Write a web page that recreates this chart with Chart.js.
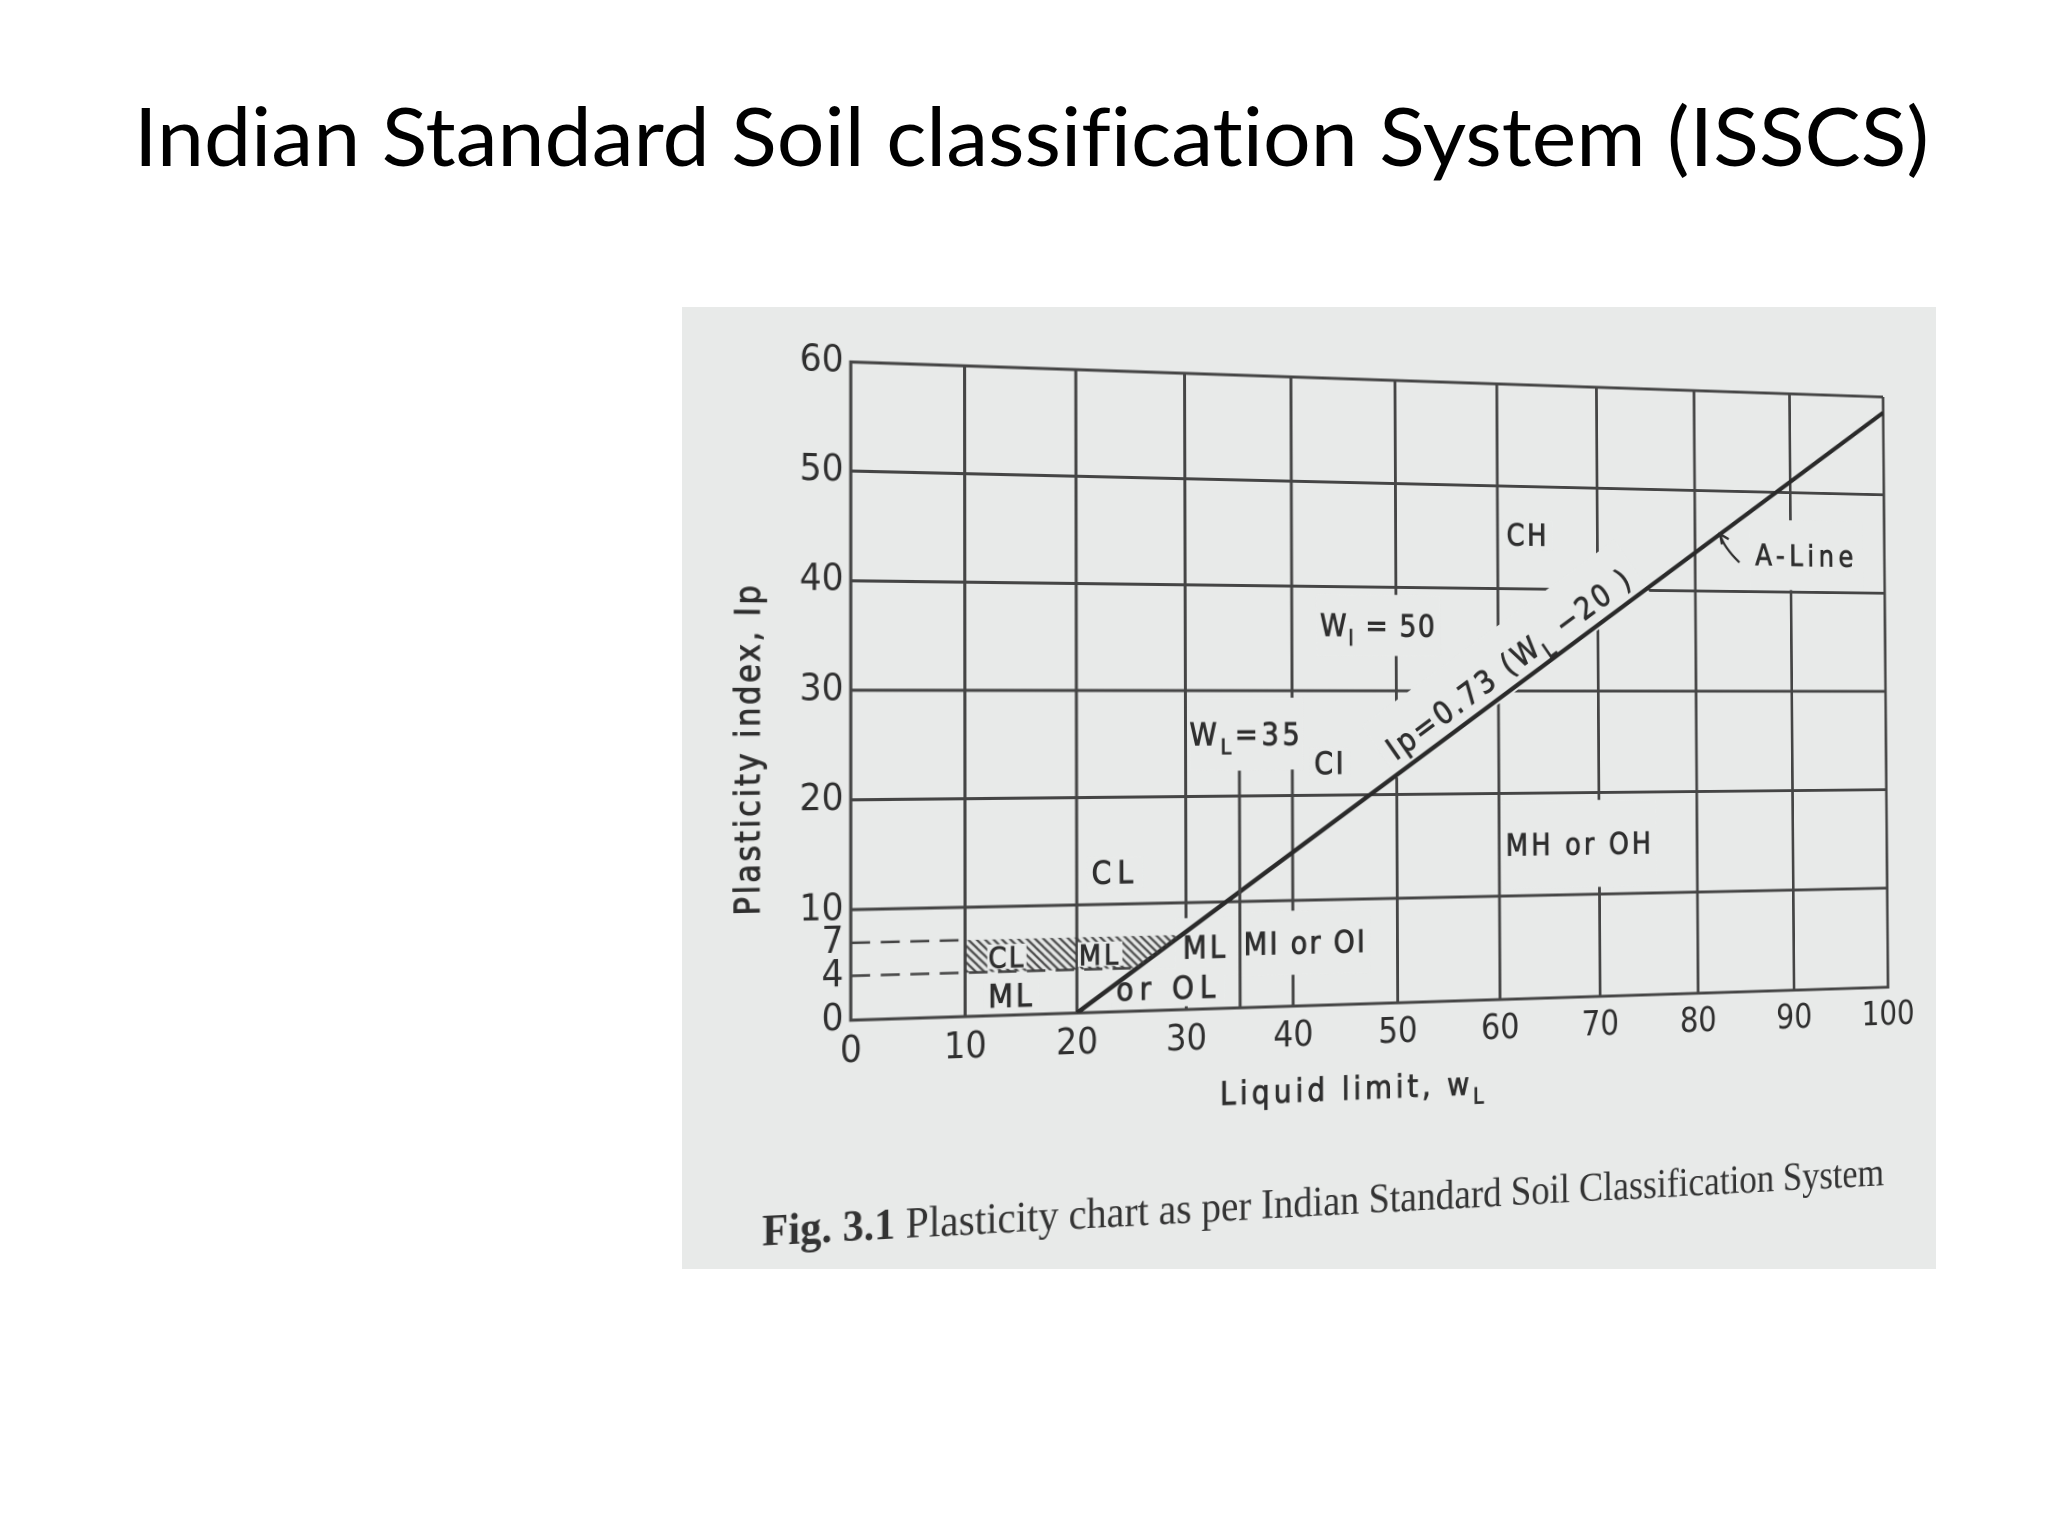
<!DOCTYPE html>
<html lang="en">
<head>
<meta charset="utf-8">
<title>Indian Standard Soil classification System (ISSCS)</title>
<script src="https://cdn.jsdelivr.net/npm/chart.js@4.4.1/dist/chart.umd.min.js"></script>
<style>
  html, body { margin: 0; padding: 0; background: #ffffff; }
  body { width: 2048px; height: 1536px; position: relative; overflow: hidden; }
  #slideTitle {
    position: absolute; left: 134px; top: 93px;
    font-family: Lato, 'Open Sans', sans-serif; font-size: 82px; line-height: 1;
    font-variant-ligatures: none; font-feature-settings: "liga" 0;
    color: #000; white-space: nowrap; transform-origin: 0 0;
  }
  #scan {
    position: absolute; left: 682px; top: 307px; width: 1254px; height: 962px;
    overflow: hidden; background: #e8eae9;
  }
  #scan canvas { position: absolute; left: 0; top: 0; transform-origin: 0 0; filter: blur(0.4px); }
</style>
</head>
<body>
<div id="slideTitle">Indian Standard Soil classification System (ISSCS)</div>
<div id="scan"><canvas id="plasticityChart" width="1310" height="960"></canvas></div>
<script>
// ---- values ----
const liquidLimitTicks = [0, 10, 20, 30, 40, 50, 60, 70, 80, 90, 100];
const plasticityTicks = [0, 4, 7, 10, 20, 30, 40, 50, 60];

// A-line, Ip = 0.73 (wL - 20)
const aLineWL = [20, 100];
const aLineIp = [0, 58.4];
// wL = 35 divider, drawn up to its label
const wl35WL = [35, 35];
const wl35Ip = [0, 22.4];
// dashed limits at Ip = 7 and Ip = 4
const ip7WL = [0, 10];
const ip7Ip = [7, 7];
const ip4WL = [0, 25.5];
const ip4Ip = [4, 4];
// hatched CL-ML band
const bandWL = [10, 29.6, 25.5, 10];
const bandIp = [7, 7, 4, 4];

// ---- look ----
const PAPER = '#e8eae9';
const LINE = '#454545';
const INK = '#2f2f2f';
const FIG_FONT = "'DejaVu Sans Condensed', 'DejaVu Sans', sans-serif";
const LABEL_SIZE = 31;

// zone names: position in (wL, Ip), printed width, and the gap they cut in the grid
const zoneLabels = [
  { parts: [['CH']], wl: 63, ip: 45.3, w: 46, pad: [4, 4] },
  { parts: [['A-Line']], wl: 91.7, ip: 43.7, w: 118, pad: [6, 26] },
  { parts: [['W'], ['l', true], [' = 50']], wl: 48.3, ip: 36.3, w: 122, pad: [4, 20] },
  { parts: [['W'], ['L', true], ['=35']], wl: 35.7, ip: 25.9, w: 116, pad: [0, 25] },
  { parts: [['CI']], wl: 43.6, ip: 23.1, w: 33, pad: [4, 4] },
  { parts: [['CL']], wl: 23.5, ip: 13.0, w: 47, pad: [4, 4] },
  { parts: [['MH or OH']], wl: 68.1, ip: 15.0, w: 162, pad: [3, 34] },
  { parts: [['ML']], wl: 31.8, ip: 5.8, w: 46, pad: [8, 18] },
  { parts: [['MI or OI']], wl: 41.2, ip: 6.0, w: 127, pad: [3, 21] },
  { parts: [['or OL']], wl: 28.4, ip: 2.1, w: 105, pad: [4, 8] },
  { parts: [['ML']], wl: 14.1, ip: 1.8, w: 45, pad: [4, 4] }
];
const bandLabels = [
  { text: 'CL', wl: 13.7, ip: 5.4, w: 36 },
  { text: 'ML', wl: 22.1, ip: 5.4, w: 42 }
];
const formula = { parts: [['Ip=0.73 (W'], ['L', true], [' \u221220 )']], wl: 62.5, ip: 31.0, w: 318 };
const arrowWL = [84.6, 82.6];
const arrowIp = [42.9, 45.7];

const toPoints = (xs, ys) => xs.map((v, i) => ({ x: v, y: ys[i] }));

function partsWidth(ctx, parts, size) {
  let w = 0;
  ctx.letterSpacing = '0px';
  for (const [t, sub] of parts) {
    ctx.font = `${sub ? size * 0.7 : size}px ${FIG_FONT}`;
    w += ctx.measureText(t).width;
  }
  return w;
}

// draw text pieces (with subscripts) centred on cx, spaced out to the printed width
function drawParts(ctx, parts, cx, baseY, size, targetW) {
  const natural = partsWidth(ctx, parts, size);
  const n = parts.reduce((s, p) => s + p[0].length, 0);
  const sp = targetW ? (targetW - natural) / n : 0;
  let x = cx - (natural + sp * n) / 2;
  ctx.textAlign = 'left';
  ctx.textBaseline = 'alphabetic';
  ctx.strokeStyle = ctx.fillStyle;
  ctx.lineWidth = 0.8;
  for (const [t, sub] of parts) {
    const fs = sub ? size * 0.7 : size;
    ctx.font = `${fs}px ${FIG_FONT}`;
    ctx.letterSpacing = '0px';
    const tw = ctx.measureText(t).width;
    ctx.letterSpacing = sp + 'px';
    const yy = baseY + (sub ? size * 0.3 : 0);
    ctx.fillText(t, x, yy);
    ctx.strokeText(t, x, yy);
    x += tw + sp * t.length;
  }
  ctx.letterSpacing = '0px';
}

const figureText = {
  id: 'figureText',
  beforeDatasetsDraw(chart) {
    const { ctx, scales: { x, y } } = chart;
    ctx.save();
    ctx.fillStyle = PAPER;
    for (const l of zoneLabels) {
      const cx = x.getPixelForValue(l.wl), cy = y.getPixelForValue(l.ip);
      const hw = l.w / 2 + l.pad[0], hh = LABEL_SIZE * 0.36 + l.pad[1];
      ctx.fillRect(cx - hw, cy - hh, hw * 2, hh * 2);
    }
    // gap left in the grid around the A-line equation
    const p0 = [x.getPixelForValue(aLineWL[0]), y.getPixelForValue(aLineIp[0])];
    const p1 = [x.getPixelForValue(aLineWL[1]), y.getPixelForValue(aLineIp[1])];
    const ang = Math.atan2(p1[1] - p0[1], p1[0] - p0[0]);
    ctx.translate(x.getPixelForValue(formula.wl), y.getPixelForValue(formula.ip));
    ctx.rotate(ang);
    ctx.fillRect(-formula.w / 2 - 8, -62, formula.w + 16, 66);
    ctx.restore();
  },
  afterDatasetsDraw(chart) {
    const { ctx, chartArea: a, scales: { x, y } } = chart;
    ctx.save();
    ctx.fillStyle = INK;
    for (const l of zoneLabels) {
      const cx = x.getPixelForValue(l.wl), cy = y.getPixelForValue(l.ip);
      drawParts(ctx, l.parts, cx, cy + LABEL_SIZE * 0.36, LABEL_SIZE, l.w);
    }
    // labels inside the hatched band
    for (const l of bandLabels) {
      const cx = x.getPixelForValue(l.wl), cy = y.getPixelForValue(l.ip);
      ctx.fillStyle = PAPER;
      ctx.fillRect(cx - l.w / 2 - 1, cy - 12, l.w + 2, 24);
      ctx.fillStyle = INK;
      drawParts(ctx, [[l.text]], cx, cy + 10, 28, l.w);
    }
    // equation along the A-line
    const p0 = [x.getPixelForValue(aLineWL[0]), y.getPixelForValue(aLineIp[0])];
    const p1 = [x.getPixelForValue(aLineWL[1]), y.getPixelForValue(aLineIp[1])];
    const ang = Math.atan2(p1[1] - p0[1], p1[0] - p0[0]);
    ctx.save();
    ctx.translate(x.getPixelForValue(formula.wl), y.getPixelForValue(formula.ip));
    ctx.rotate(ang);
    drawParts(ctx, formula.parts, 0, -12, 32, formula.w);
    ctx.restore();
    // arrow pointing at the A-line
    const t0 = [x.getPixelForValue(arrowWL[0]), y.getPixelForValue(arrowIp[0])];
    const t1 = [x.getPixelForValue(arrowWL[1]), y.getPixelForValue(arrowIp[1])];
    ctx.strokeStyle = INK;
    ctx.lineWidth = 2.5;
    ctx.beginPath();
    ctx.moveTo(t0[0], t0[1]);
    ctx.quadraticCurveTo(t1[0] + 4, t1[1] + 14, t1[0], t1[1]);
    ctx.stroke();
    const ha = Math.atan2(t1[1] - t0[1], t1[0] - t0[0]);
    ctx.beginPath();
    ctx.moveTo(t1[0] - 11 * Math.cos(ha - 0.45), t1[1] - 11 * Math.sin(ha - 0.45));
    ctx.lineTo(t1[0], t1[1]);
    ctx.lineTo(t1[0] - 11 * Math.cos(ha + 0.45), t1[1] - 11 * Math.sin(ha + 0.45));
    ctx.stroke();
    // axis titles
    drawParts(ctx, [['Liquid limit, w'], ['L', true]], x.getPixelForValue(45.9), a.bottom + 96, 32, 278);
    ctx.save();
    ctx.translate(a.left - 97, y.getPixelForValue(24.7));
    ctx.rotate(-Math.PI / 2);
    drawParts(ctx, [['Plasticity index, Ip']], 0, 12, 32, 317);
    ctx.restore();
    // figure caption printed under the chart
    const cx0 = x.getPixelForValue(-7.6), cx1 = x.getPixelForValue(99.4);
    const bold = 'bold 42px "Liberation Serif", "DejaVu Serif", serif';
    const reg = '42px "Liberation Serif", "DejaVu Serif", serif';
    const head = 'Fig. 3.1', rest = ' Plasticity chart as per Indian Standard Soil Classification System';
    ctx.font = bold; const wh = ctx.measureText(head).width;
    ctx.font = reg; const wr = ctx.measureText(rest).width;
    ctx.save();
    ctx.translate(cx0, a.bottom + 211);
    ctx.scale((cx1 - cx0) / (wh + wr), 1);
    ctx.fillStyle = '#333333';
    ctx.textAlign = 'left';
    ctx.font = bold; ctx.fillText(head, 0, 0);
    ctx.font = reg; ctx.fillText(rest, wh, 0);
    ctx.restore();
    ctx.restore();
  }
};

document.addEventListener('DOMContentLoaded', function () {
  // slide title stretched to the width it has on the slide
  const title = document.getElementById('slideTitle');
  title.style.transform = `scaleX(${1795 / title.getBoundingClientRect().width})`;

  const canvas = document.getElementById('plasticityChart');
  const ctx = canvas.getContext('2d');

  // diagonal hatching for the CL-ML band
  const tile = document.createElement('canvas');
  tile.width = 8; tile.height = 8;
  const tg = tile.getContext('2d');
  tg.strokeStyle = '#3c3c3c';
  tg.lineWidth = 2;
  tg.beginPath(); tg.moveTo(-1, -1); tg.lineTo(9, 9); tg.stroke();
  tg.beginPath(); tg.moveTo(-1, 7); tg.lineTo(1, 9); tg.stroke();
  tg.beginPath(); tg.moveTo(7, -1); tg.lineTo(9, 1); tg.stroke();
  const hatch = ctx.createPattern(tile, 'repeat');

  const tickFont = { family: FIG_FONT, size: 36 };

  const chart = new Chart(ctx, {
    type: 'scatter',
    data: {
      datasets: [{
        label: 'CL-ML band',
        data: toPoints(bandWL, bandIp),
        showLine: true,
        fill: 'shape',
        backgroundColor: hatch,
        borderWidth: 0,
        pointRadius: 0
      }, {
        label: 'Ip = 7',
        data: toPoints(ip7WL, ip7Ip),
        showLine: true,
        borderColor: LINE,
        borderWidth: 2.5,
        borderDash: [18, 10],
        pointRadius: 0
      }, {
        label: 'Ip = 4',
        data: toPoints(ip4WL, ip4Ip),
        showLine: true,
        borderColor: LINE,
        borderWidth: 2.5,
        borderDash: [18, 10],
        pointRadius: 0
      }, {
        label: 'wL = 35',
        data: toPoints(wl35WL, wl35Ip),
        showLine: true,
        borderColor: LINE,
        borderWidth: 3,
        pointRadius: 0
      }, {
        label: 'A-line',
        data: toPoints(aLineWL, aLineIp),
        showLine: true,
        borderColor: '#2a2a2a',
        borderWidth: 4.5,
        pointRadius: 0
      }]
    },
    options: {
      responsive: false,
      animation: false,
      devicePixelRatio: 2,
      layout: { padding: { left: 120, right: 50, top: 55, bottom: 210 } },
      plugins: { legend: { display: false }, tooltip: { enabled: false } },
      scales: {
        x: {
          type: 'linear',
          min: 0,
          max: 100,
          afterBuildTicks: (axis) => { axis.ticks = liquidLimitTicks.map(v => ({ value: v })); },
          grid: { color: LINE, lineWidth: 3, drawTicks: false },
          border: { color: LINE, width: 3 },
          ticks: { color: INK, font: tickFont, padding: 9, autoSkip: false, maxRotation: 0 }
        },
        y: {
          type: 'linear',
          min: 0,
          max: 60,
          afterBuildTicks: (axis) => { axis.ticks = plasticityTicks.map(v => ({ value: v })); },
          grid: {
            color: (c) => (c.tick && (c.tick.value === 4 || c.tick.value === 7)) ? 'rgba(0,0,0,0)' : LINE,
            lineWidth: 3,
            drawTicks: false
          },
          border: { color: LINE, width: 3 },
          ticks: { color: INK, font: tickFont, padding: 7, autoSkip: false }
        }
      }
    },
    plugins: [figureText]
  });

  // the scanned page is photographed at an angle: map the plot frame onto it
  const a = chart.chartArea;
  const src = [[a.left, a.top], [a.right, a.top], [a.right, a.bottom], [a.left, a.bottom]];
  const dst = [[169, 55], [1201, 90], [1206, 680], [169, 713]];
  const A = [], b = [];
  for (let i = 0; i < 4; i++) {
    const [sx, sy] = src[i], [u, v] = dst[i];
    A.push([sx, sy, 1, 0, 0, 0, -u * sx, -u * sy]); b.push(u);
    A.push([0, 0, 0, sx, sy, 1, -v * sx, -v * sy]); b.push(v);
  }
  for (let c = 0; c < 8; c++) {
    let p = c;
    for (let r = c + 1; r < 8; r++) if (Math.abs(A[r][c]) > Math.abs(A[p][c])) p = r;
    [A[c], A[p]] = [A[p], A[c]];
    [b[c], b[p]] = [b[p], b[c]];
    for (let r = 0; r < 8; r++) {
      if (r === c) continue;
      const f = A[r][c] / A[c][c];
      for (let k = c; k < 8; k++) A[r][k] -= f * A[c][k];
      b[r] -= f * b[c];
    }
  }
  const h = b.map((v, i) => v / A[i][i]);
  canvas.style.transform =
    `matrix3d(${h[0]},${h[3]},0,${h[6]},${h[1]},${h[4]},0,${h[7]},0,0,1,0,${h[2]},${h[5]},0,1)`;
});
</script>
</body>
</html>
